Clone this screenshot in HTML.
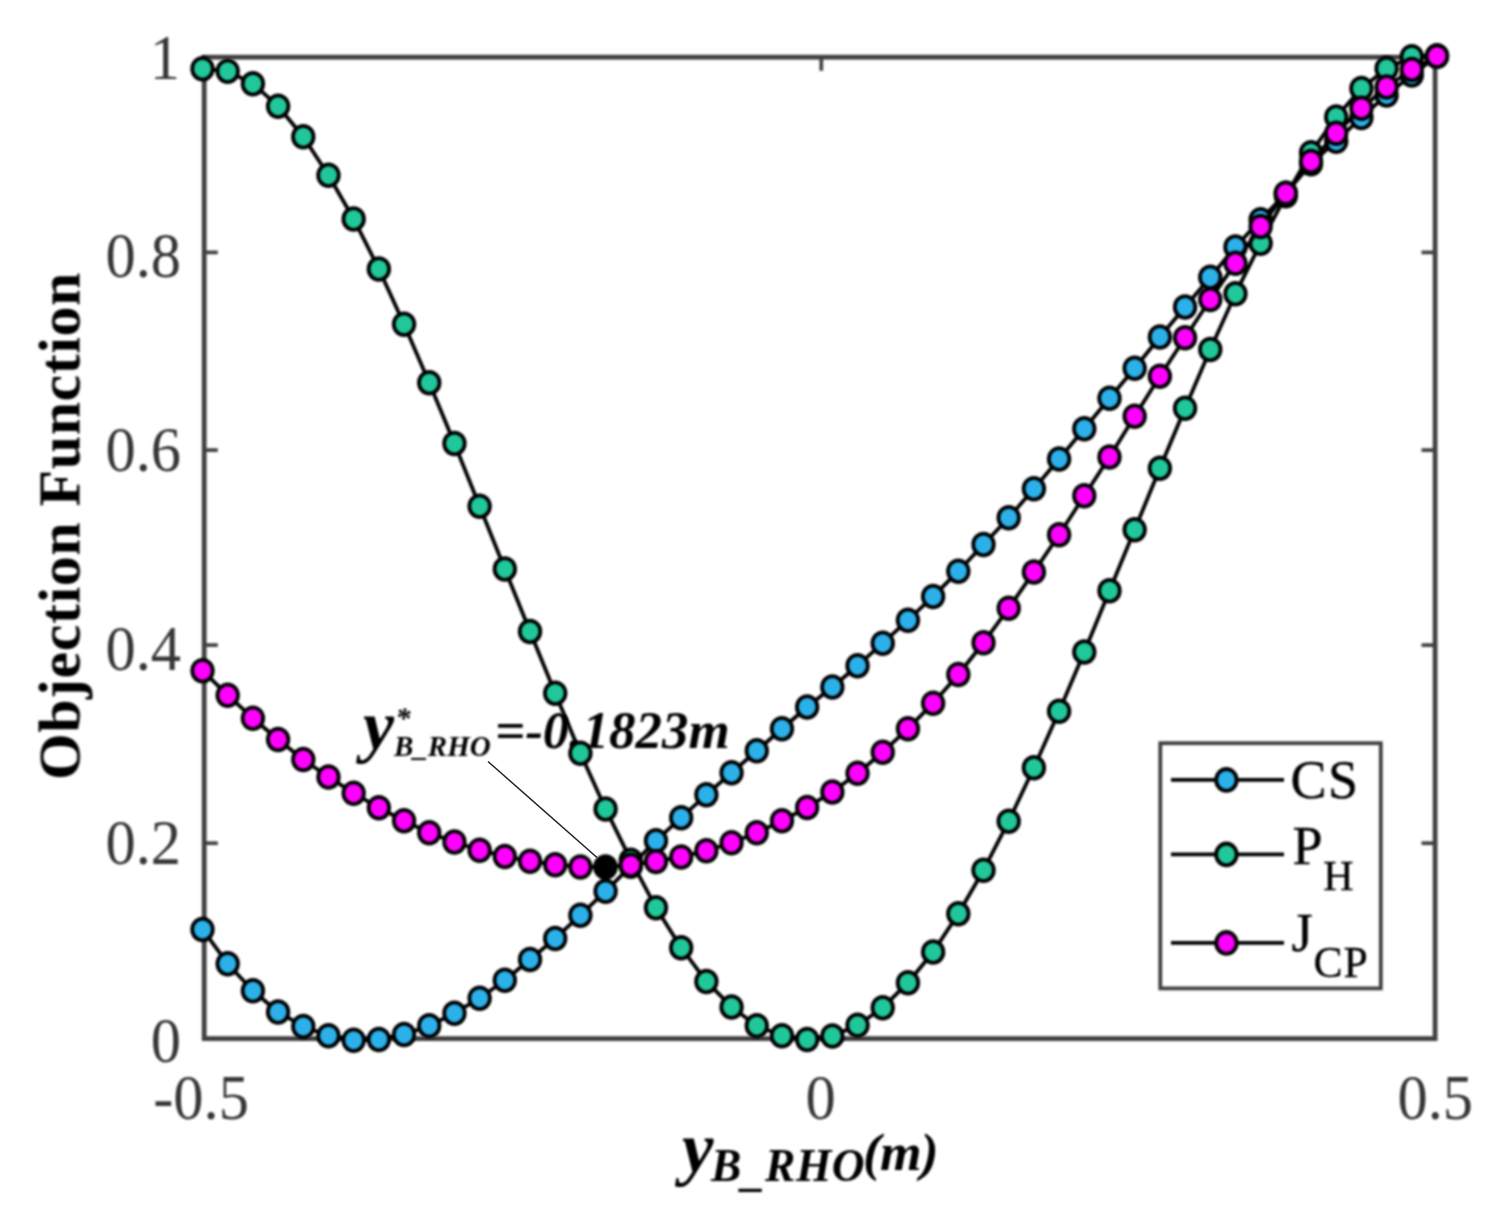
<!DOCTYPE html>
<html lang="en"><head><meta charset="utf-8"><title>Objection Function</title>
<style>
html,body{margin:0;padding:0;background:#fff;}
body{width:1487px;height:1215px;overflow:hidden;font-family:"Liberation Serif",serif;}
svg{display:block;}
text{font-family:"Liberation Serif",serif;}
.tk{font-size:60.5px;fill:#363636;}
.bi{font-weight:bold;font-style:italic;fill:#000;}
</style></head><body>
<svg width="1487" height="1215" viewBox="0 0 1487 1215">
<defs><filter id="soft2" x="-5%" y="-5%" width="110%" height="110%" color-interpolation-filters="sRGB"><feGaussianBlur stdDeviation="0.6"/></filter><filter id="soft" x="-2%" y="-2%" width="104%" height="104%" color-interpolation-filters="sRGB"><feGaussianBlur stdDeviation="1.15"/></filter></defs>
<rect width="1487" height="1215" fill="#fff"/>
<g filter="url(#soft)">
<rect x="204.2" y="57.2" width="1230.8999999999999" height="981.3999999999999" fill="none" stroke="#404040" stroke-width="4.8"/>
<g stroke="#404040" stroke-width="3.7"><line x1="204.2" y1="843.20" x2="217.79999999999998" y2="843.20"/><line x1="1435.1" y1="843.20" x2="1421.5" y2="843.20"/><line x1="204.2" y1="645.10" x2="217.79999999999998" y2="645.10"/><line x1="1435.1" y1="645.10" x2="1421.5" y2="645.10"/><line x1="204.2" y1="450.10" x2="217.79999999999998" y2="450.10"/><line x1="1435.1" y1="450.10" x2="1421.5" y2="450.10"/><line x1="204.2" y1="252.40" x2="217.79999999999998" y2="252.40"/><line x1="1435.1" y1="252.40" x2="1421.5" y2="252.40"/><line x1="821.3" y1="57.2" x2="821.3" y2="70.8"/></g>
<text class="tk" transform="translate(181 1062.2) scale(1 1.035)" text-anchor="end">0</text><text class="tk" transform="translate(181 864.4) scale(1 1.035)" text-anchor="end">0.2</text><text class="tk" transform="translate(181 669.5) scale(1 1.035)" text-anchor="end">0.4</text><text class="tk" transform="translate(181 471.1) scale(1 1.035)" text-anchor="end">0.6</text><text class="tk" transform="translate(181 276.8) scale(1 1.035)" text-anchor="end">0.8</text><text class="tk" transform="translate(180 79.3) scale(1 1.035)" text-anchor="end">1</text><text class="tk" transform="translate(201 1118.8) scale(1 1.035)" text-anchor="middle">-0.5</text><text class="tk" transform="translate(820.6 1118.8) scale(1 1.035)" text-anchor="middle">0</text><text class="tk" transform="translate(1435.2 1118.8) scale(1 1.035)" text-anchor="middle">0.5</text>
<text transform="translate(79.5 780) rotate(-90)" font-size="60" letter-spacing="0.53" font-weight="bold" fill="#000">Objection Function</text>
<text class="bi" x="682" y="1171.5" font-size="71">y</text><text class="bi" x="711" y="1180.5" font-size="45.5" letter-spacing="0.5">B<tspan dy="5">_</tspan><tspan dy="-5">RHO</tspan></text><text class="bi" x="863" y="1169.5" font-size="53.5" letter-spacing="-0.8">(m)</text>
<text class="bi" x="363" y="748.5" font-size="70">y</text><text class="bi" x="395.5" y="727.5" font-size="30">*</text><text class="bi" x="394" y="756" font-size="29">B_RHO</text><text class="bi" x="495" y="748" font-size="53">=-0.1823m</text>
</g>
<line x1="488" y1="761.5" x2="597" y2="857.5" stroke="#222" stroke-width="1.5" filter="url(#soft2)"/>
<g filter="url(#soft)">
<polyline points="202.5,929.45 227.69,963.7 252.89,990.7 278.08,1011.95 303.28,1026.45 328.47,1035.7 353.66,1040.2 378.86,1039.45 404.05,1034.45 429.24,1025.7 454.44,1013.2 479.63,998.2 504.83,980.2 530.02,959.45 555.21,938.45 580.41,915.2 605.6,891.2 630.8,866.2 655.99,840.7 681.18,817.7 706.38,794.7 731.57,772.7 756.77,750.7 781.96,728.7 807.15,706.95 832.35,686.95 857.54,665.7 882.73,643.2 907.93,620.2 933.12,596.45 958.32,571.2 983.51,544.45 1008.7,517.7 1033.9,488.7 1059.09,458.95 1084.29,428.7 1109.48,398.2 1134.67,368.2 1159.87,336.95 1185.06,306.95 1210.26,277.2 1235.45,246.95 1260.64,219.7 1285.84,193.2 1311.03,163.7 1336.22,141.2 1361.42,117.45 1386.61,94.95 1411.81,74.95 1437.0,56.2" fill="none" stroke="#000" stroke-width="3.8" stroke-linejoin="round"/>
<g fill="#2BB0EA" stroke="#000" stroke-width="3.8"><ellipse cx="202.5" cy="929.45" rx="10.3" ry="10.9"/><ellipse cx="227.69" cy="963.7" rx="10.3" ry="10.9"/><ellipse cx="252.89" cy="990.7" rx="10.3" ry="10.9"/><ellipse cx="278.08" cy="1011.95" rx="10.3" ry="10.9"/><ellipse cx="303.28" cy="1026.45" rx="10.3" ry="10.9"/><ellipse cx="328.47" cy="1035.7" rx="10.3" ry="10.9"/><ellipse cx="353.66" cy="1040.2" rx="10.3" ry="10.9"/><ellipse cx="378.86" cy="1039.45" rx="10.3" ry="10.9"/><ellipse cx="404.05" cy="1034.45" rx="10.3" ry="10.9"/><ellipse cx="429.24" cy="1025.7" rx="10.3" ry="10.9"/><ellipse cx="454.44" cy="1013.2" rx="10.3" ry="10.9"/><ellipse cx="479.63" cy="998.2" rx="10.3" ry="10.9"/><ellipse cx="504.83" cy="980.2" rx="10.3" ry="10.9"/><ellipse cx="530.02" cy="959.45" rx="10.3" ry="10.9"/><ellipse cx="555.21" cy="938.45" rx="10.3" ry="10.9"/><ellipse cx="580.41" cy="915.2" rx="10.3" ry="10.9"/><ellipse cx="605.6" cy="891.2" rx="10.3" ry="10.9"/><ellipse cx="630.8" cy="866.2" rx="10.3" ry="10.9"/><ellipse cx="655.99" cy="840.7" rx="10.3" ry="10.9"/><ellipse cx="681.18" cy="817.7" rx="10.3" ry="10.9"/><ellipse cx="706.38" cy="794.7" rx="10.3" ry="10.9"/><ellipse cx="731.57" cy="772.7" rx="10.3" ry="10.9"/><ellipse cx="756.77" cy="750.7" rx="10.3" ry="10.9"/><ellipse cx="781.96" cy="728.7" rx="10.3" ry="10.9"/><ellipse cx="807.15" cy="706.95" rx="10.3" ry="10.9"/><ellipse cx="832.35" cy="686.95" rx="10.3" ry="10.9"/><ellipse cx="857.54" cy="665.7" rx="10.3" ry="10.9"/><ellipse cx="882.73" cy="643.2" rx="10.3" ry="10.9"/><ellipse cx="907.93" cy="620.2" rx="10.3" ry="10.9"/><ellipse cx="933.12" cy="596.45" rx="10.3" ry="10.9"/><ellipse cx="958.32" cy="571.2" rx="10.3" ry="10.9"/><ellipse cx="983.51" cy="544.45" rx="10.3" ry="10.9"/><ellipse cx="1008.7" cy="517.7" rx="10.3" ry="10.9"/><ellipse cx="1033.9" cy="488.7" rx="10.3" ry="10.9"/><ellipse cx="1059.09" cy="458.95" rx="10.3" ry="10.9"/><ellipse cx="1084.29" cy="428.7" rx="10.3" ry="10.9"/><ellipse cx="1109.48" cy="398.2" rx="10.3" ry="10.9"/><ellipse cx="1134.67" cy="368.2" rx="10.3" ry="10.9"/><ellipse cx="1159.87" cy="336.95" rx="10.3" ry="10.9"/><ellipse cx="1185.06" cy="306.95" rx="10.3" ry="10.9"/><ellipse cx="1210.26" cy="277.2" rx="10.3" ry="10.9"/><ellipse cx="1235.45" cy="246.95" rx="10.3" ry="10.9"/><ellipse cx="1260.64" cy="219.7" rx="10.3" ry="10.9"/><ellipse cx="1285.84" cy="193.2" rx="10.3" ry="10.9"/><ellipse cx="1311.03" cy="163.7" rx="10.3" ry="10.9"/><ellipse cx="1336.22" cy="141.2" rx="10.3" ry="10.9"/><ellipse cx="1361.42" cy="117.45" rx="10.3" ry="10.9"/><ellipse cx="1386.61" cy="94.95" rx="10.3" ry="10.9"/><ellipse cx="1411.81" cy="74.95" rx="10.3" ry="10.9"/><ellipse cx="1437.0" cy="56.2" rx="10.3" ry="10.9"/></g>
<polyline points="202.5,68.7 227.69,71.2 252.89,83.7 278.08,106.2 303.28,136.7 328.47,175.2 353.66,218.95 378.86,268.95 404.05,324.2 429.24,382.7 454.44,443.45 479.63,506.2 504.83,568.95 530.02,631.45 555.21,693.2 580.41,753.2 605.6,808.95 630.8,860.2 655.99,907.7 681.18,947.7 706.38,981.45 731.57,1006.95 756.77,1025.7 781.96,1035.7 807.15,1039.45 832.35,1035.95 857.54,1025.2 882.73,1007.7 907.93,982.7 933.12,951.95 958.32,913.7 983.51,870.2 1008.7,821.2 1033.9,767.7 1059.09,711.2 1084.29,651.95 1109.48,590.7 1134.67,529.7 1159.87,468.2 1185.06,408.2 1210.26,349.45 1235.45,293.7 1260.64,243.2 1285.84,195.7 1311.03,152.7 1336.22,116.95 1361.42,88.45 1386.61,68.45 1411.81,56.7 1437.0,55.7" fill="none" stroke="#000" stroke-width="3.8" stroke-linejoin="round"/>
<g fill="#20C79A" stroke="#000" stroke-width="3.8"><ellipse cx="202.5" cy="68.7" rx="10.3" ry="10.9"/><ellipse cx="227.69" cy="71.2" rx="10.3" ry="10.9"/><ellipse cx="252.89" cy="83.7" rx="10.3" ry="10.9"/><ellipse cx="278.08" cy="106.2" rx="10.3" ry="10.9"/><ellipse cx="303.28" cy="136.7" rx="10.3" ry="10.9"/><ellipse cx="328.47" cy="175.2" rx="10.3" ry="10.9"/><ellipse cx="353.66" cy="218.95" rx="10.3" ry="10.9"/><ellipse cx="378.86" cy="268.95" rx="10.3" ry="10.9"/><ellipse cx="404.05" cy="324.2" rx="10.3" ry="10.9"/><ellipse cx="429.24" cy="382.7" rx="10.3" ry="10.9"/><ellipse cx="454.44" cy="443.45" rx="10.3" ry="10.9"/><ellipse cx="479.63" cy="506.2" rx="10.3" ry="10.9"/><ellipse cx="504.83" cy="568.95" rx="10.3" ry="10.9"/><ellipse cx="530.02" cy="631.45" rx="10.3" ry="10.9"/><ellipse cx="555.21" cy="693.2" rx="10.3" ry="10.9"/><ellipse cx="580.41" cy="753.2" rx="10.3" ry="10.9"/><ellipse cx="605.6" cy="808.95" rx="10.3" ry="10.9"/><ellipse cx="630.8" cy="860.2" rx="10.3" ry="10.9"/><ellipse cx="655.99" cy="907.7" rx="10.3" ry="10.9"/><ellipse cx="681.18" cy="947.7" rx="10.3" ry="10.9"/><ellipse cx="706.38" cy="981.45" rx="10.3" ry="10.9"/><ellipse cx="731.57" cy="1006.95" rx="10.3" ry="10.9"/><ellipse cx="756.77" cy="1025.7" rx="10.3" ry="10.9"/><ellipse cx="781.96" cy="1035.7" rx="10.3" ry="10.9"/><ellipse cx="807.15" cy="1039.45" rx="10.3" ry="10.9"/><ellipse cx="832.35" cy="1035.95" rx="10.3" ry="10.9"/><ellipse cx="857.54" cy="1025.2" rx="10.3" ry="10.9"/><ellipse cx="882.73" cy="1007.7" rx="10.3" ry="10.9"/><ellipse cx="907.93" cy="982.7" rx="10.3" ry="10.9"/><ellipse cx="933.12" cy="951.95" rx="10.3" ry="10.9"/><ellipse cx="958.32" cy="913.7" rx="10.3" ry="10.9"/><ellipse cx="983.51" cy="870.2" rx="10.3" ry="10.9"/><ellipse cx="1008.7" cy="821.2" rx="10.3" ry="10.9"/><ellipse cx="1033.9" cy="767.7" rx="10.3" ry="10.9"/><ellipse cx="1059.09" cy="711.2" rx="10.3" ry="10.9"/><ellipse cx="1084.29" cy="651.95" rx="10.3" ry="10.9"/><ellipse cx="1109.48" cy="590.7" rx="10.3" ry="10.9"/><ellipse cx="1134.67" cy="529.7" rx="10.3" ry="10.9"/><ellipse cx="1159.87" cy="468.2" rx="10.3" ry="10.9"/><ellipse cx="1185.06" cy="408.2" rx="10.3" ry="10.9"/><ellipse cx="1210.26" cy="349.45" rx="10.3" ry="10.9"/><ellipse cx="1235.45" cy="293.7" rx="10.3" ry="10.9"/><ellipse cx="1260.64" cy="243.2" rx="10.3" ry="10.9"/><ellipse cx="1285.84" cy="195.7" rx="10.3" ry="10.9"/><ellipse cx="1311.03" cy="152.7" rx="10.3" ry="10.9"/><ellipse cx="1336.22" cy="116.95" rx="10.3" ry="10.9"/><ellipse cx="1361.42" cy="88.45" rx="10.3" ry="10.9"/><ellipse cx="1386.61" cy="68.45" rx="10.3" ry="10.9"/><ellipse cx="1411.81" cy="56.7" rx="10.3" ry="10.9"/><ellipse cx="1437.0" cy="55.7" rx="10.3" ry="10.9"/></g>
<polyline points="202.5,670.7 227.69,695.2 252.89,718.2 278.08,739.45 303.28,759.45 328.47,776.95 353.66,793.2 378.86,807.7 404.05,820.7 429.24,832.7 454.44,841.95 479.63,850.2 504.83,856.45 530.02,861.2 555.21,864.7 580.41,866.95 605.6,866.95 630.8,865.2 655.99,861.45 681.18,856.95 706.38,850.7 731.57,842.7 756.77,832.7 781.96,820.7 807.15,807.45 832.35,791.95 857.54,773.2 882.73,752.2 907.93,728.7 933.12,703.2 958.32,674.45 983.51,642.7 1008.7,608.2 1033.9,571.95 1059.09,534.7 1084.29,495.7 1109.48,456.95 1134.67,416.2 1159.87,376.2 1185.06,337.7 1210.26,299.45 1235.45,263.2 1260.64,226.45 1285.84,193.2 1311.03,161.45 1336.22,133.2 1361.42,108.2 1386.61,86.95 1411.81,69.45 1437.0,56.2" fill="none" stroke="#000" stroke-width="3.8" stroke-linejoin="round"/>
<g fill="#FF00FF" stroke="#000" stroke-width="3.8"><ellipse cx="202.5" cy="670.7" rx="10.3" ry="10.9"/><ellipse cx="227.69" cy="695.2" rx="10.3" ry="10.9"/><ellipse cx="252.89" cy="718.2" rx="10.3" ry="10.9"/><ellipse cx="278.08" cy="739.45" rx="10.3" ry="10.9"/><ellipse cx="303.28" cy="759.45" rx="10.3" ry="10.9"/><ellipse cx="328.47" cy="776.95" rx="10.3" ry="10.9"/><ellipse cx="353.66" cy="793.2" rx="10.3" ry="10.9"/><ellipse cx="378.86" cy="807.7" rx="10.3" ry="10.9"/><ellipse cx="404.05" cy="820.7" rx="10.3" ry="10.9"/><ellipse cx="429.24" cy="832.7" rx="10.3" ry="10.9"/><ellipse cx="454.44" cy="841.95" rx="10.3" ry="10.9"/><ellipse cx="479.63" cy="850.2" rx="10.3" ry="10.9"/><ellipse cx="504.83" cy="856.45" rx="10.3" ry="10.9"/><ellipse cx="530.02" cy="861.2" rx="10.3" ry="10.9"/><ellipse cx="555.21" cy="864.7" rx="10.3" ry="10.9"/><ellipse cx="580.41" cy="866.95" rx="10.3" ry="10.9"/><ellipse cx="605.6" cy="866.95" rx="10.3" ry="10.9"/><ellipse cx="630.8" cy="865.2" rx="10.3" ry="10.9"/><ellipse cx="655.99" cy="861.45" rx="10.3" ry="10.9"/><ellipse cx="681.18" cy="856.95" rx="10.3" ry="10.9"/><ellipse cx="706.38" cy="850.7" rx="10.3" ry="10.9"/><ellipse cx="731.57" cy="842.7" rx="10.3" ry="10.9"/><ellipse cx="756.77" cy="832.7" rx="10.3" ry="10.9"/><ellipse cx="781.96" cy="820.7" rx="10.3" ry="10.9"/><ellipse cx="807.15" cy="807.45" rx="10.3" ry="10.9"/><ellipse cx="832.35" cy="791.95" rx="10.3" ry="10.9"/><ellipse cx="857.54" cy="773.2" rx="10.3" ry="10.9"/><ellipse cx="882.73" cy="752.2" rx="10.3" ry="10.9"/><ellipse cx="907.93" cy="728.7" rx="10.3" ry="10.9"/><ellipse cx="933.12" cy="703.2" rx="10.3" ry="10.9"/><ellipse cx="958.32" cy="674.45" rx="10.3" ry="10.9"/><ellipse cx="983.51" cy="642.7" rx="10.3" ry="10.9"/><ellipse cx="1008.7" cy="608.2" rx="10.3" ry="10.9"/><ellipse cx="1033.9" cy="571.95" rx="10.3" ry="10.9"/><ellipse cx="1059.09" cy="534.7" rx="10.3" ry="10.9"/><ellipse cx="1084.29" cy="495.7" rx="10.3" ry="10.9"/><ellipse cx="1109.48" cy="456.95" rx="10.3" ry="10.9"/><ellipse cx="1134.67" cy="416.2" rx="10.3" ry="10.9"/><ellipse cx="1159.87" cy="376.2" rx="10.3" ry="10.9"/><ellipse cx="1185.06" cy="337.7" rx="10.3" ry="10.9"/><ellipse cx="1210.26" cy="299.45" rx="10.3" ry="10.9"/><ellipse cx="1235.45" cy="263.2" rx="10.3" ry="10.9"/><ellipse cx="1260.64" cy="226.45" rx="10.3" ry="10.9"/><ellipse cx="1285.84" cy="193.2" rx="10.3" ry="10.9"/><ellipse cx="1311.03" cy="161.45" rx="10.3" ry="10.9"/><ellipse cx="1336.22" cy="133.2" rx="10.3" ry="10.9"/><ellipse cx="1361.42" cy="108.2" rx="10.3" ry="10.9"/><ellipse cx="1386.61" cy="86.95" rx="10.3" ry="10.9"/><ellipse cx="1411.81" cy="69.45" rx="10.3" ry="10.9"/><ellipse cx="1437.0" cy="56.2" rx="10.3" ry="10.9"/></g>
<ellipse cx="604.5" cy="866.9" rx="11.3" ry="12" fill="#000"/>
<rect x="1160.3" y="743.2" width="220.5" height="245.19999999999993" fill="#fff" stroke="#404040" stroke-width="3.8"/>
<line x1="1171" y1="779.9" x2="1284" y2="779.9" stroke="#000" stroke-width="3.8"/><ellipse cx="1226.4" cy="779.9" rx="10.3" ry="10.9" fill="#2BB0EA" stroke="#000" stroke-width="3.8"/><line x1="1171" y1="854.4" x2="1284" y2="854.4" stroke="#000" stroke-width="3.8"/><ellipse cx="1226.4" cy="854.4" rx="10.3" ry="10.9" fill="#20C79A" stroke="#000" stroke-width="3.8"/><line x1="1171" y1="942.9" x2="1284" y2="942.9" stroke="#000" stroke-width="3.8"/><ellipse cx="1226.4" cy="942.9" rx="10.3" ry="10.9" fill="#FF00FF" stroke="#000" stroke-width="3.8"/>
<g fill="#000" stroke="#000" stroke-width="0.35"><text x="1290.5" y="797.5" font-size="54" letter-spacing="1.5">CS</text><text x="1292.5" y="863.8" font-size="54">P</text><text x="1323.3" y="890" font-size="42">H</text><text x="1291.5" y="951" font-size="54.5">J</text><text x="1313.5" y="976.8" font-size="43.5" letter-spacing="1">CP</text></g>
</g></svg>
</body></html>
